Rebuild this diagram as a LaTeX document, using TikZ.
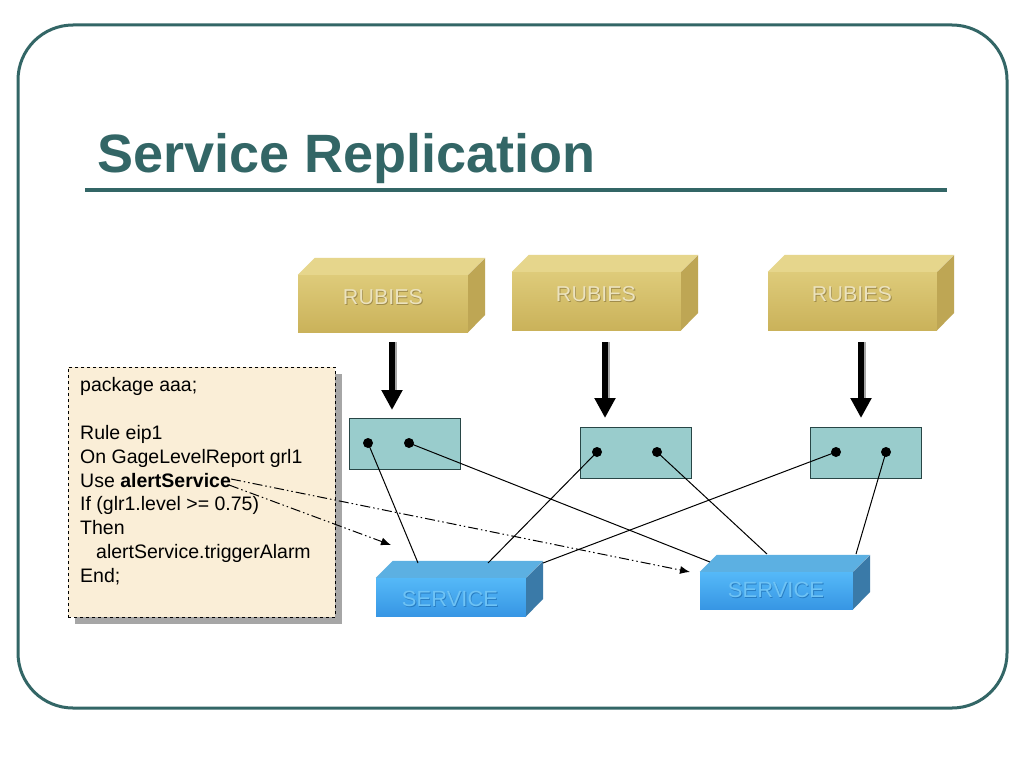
\documentclass[tikz,border=0pt]{standalone}
\usepackage{fontspec}
\setmainfont{Liberation Sans}
\usetikzlibrary{arrows.meta,calc}
\definecolor{teal1}{RGB}{51,102,102}
\definecolor{boxteal}{RGB}{153,204,204}
\definecolor{boxedge}{RGB}{40,70,70}
\definecolor{goldtop}{RGB}{230,214,140}
\definecolor{goldA}{RGB}{222,203,122}
\definecolor{goldB}{RGB}{202,178,90}
\definecolor{goldside}{RGB}{190,166,84}
\definecolor{goldtext}{RGB}{235,226,190}
\definecolor{goldtextd}{RGB}{160,140,75}
\definecolor{blueA}{RGB}{85,185,248}
\definecolor{blueB}{RGB}{55,150,228}
\definecolor{bluetop}{RGB}{92,176,226}
\definecolor{blueside}{RGB}{58,122,168}
\definecolor{bluetext}{RGB}{110,195,245}
\definecolor{bluetextd}{RGB}{40,125,195}
\definecolor{codebg}{RGB}{250,238,215}
\newcommand\myblock[6]{%
  \node[minimum width=#4pt, minimum height=#5pt, inner sep=0pt, top color=#6A, bottom color=#6B] (#1) at (#2,#3) {};
  \fill[#6top] (#1.north west) -- ++(17,-17) -- ++(#4,0) -- (#1.north east) -- cycle;
  \fill[#6side] (#1.north east) -- ++(17,-17) -- ++(0,#5) -- (#1.south east) -- cycle;
}
\tikzset{
  tealbox/.style={draw=boxedge, line width=1pt, fill=boxteal, minimum width=111pt, minimum height=51pt, inner sep=0pt},
  dotnode/.style={circle, fill=black, minimum size=10pt, inner sep=0pt},
  wire/.style={line width=1pt, black},
  bigarrow/.style={line width=6pt, black, -{Triangle[length=20pt,width=20pt]}},
  stripe/.style={line width=1.5pt, black!35},
  dashdot/.style={line width=1pt, dash pattern=on 10pt off 3pt on 1.5pt off 3pt on 1.5pt off 3pt, -{Latex[length=10pt,width=8pt]}},
  codeline/.style={anchor=base west, inner sep=0pt, font=\fontsize{19.5}{24}\selectfont},
  rubtext/.style={font=\fontsize{21.5}{24}\selectfont, inner sep=0pt},
  svctext/.style={font=\fontsize{22}{24}\selectfont, inner sep=0pt}
}
\begin{document}
\begin{tikzpicture}[x=1pt,y=-1pt]
\useasboundingbox (0,0) rectangle (1024,768);
\fill[white] (0,0) rectangle (1024,768);
\draw[teal1, line width=3pt, rounded corners=55pt] (18,25) rectangle (1007,708);
% title
\node[anchor=base west, inner sep=0pt, text=teal1, font=\bfseries\fontsize{54}{60}\selectfont] (title) at (97,172) {Service Replication};
\fill[teal1] (85,188) rectangle (947,192);

% gold blocks
\myblock{g1}{383}{303.5}{170}{57}{gold}
\myblock{g2}{596.5}{301}{169}{58}{gold}
\myblock{g3}{852.5}{301}{169}{58}{gold}
\foreach \n/\x/\y in {r1/383/297, r2/596/294, r3/852/294}{
  \node[rubtext, text=goldtextd] at (\x+0.9,\y+0.9) {RUBIES};
  \node[rubtext, text=goldtext] (\n) at (\x,\y) {RUBIES};
}

% teal boxes
\node[tealbox, anchor=north west] (b1) at (349,418) {};
\node[tealbox, anchor=north west] (b2) at (580,427) {};
\node[tealbox, anchor=north west] (b3) at (810,427) {};

% big arrows
\coordinate (a1s) at (392,342); \coordinate (a1e) at (392,410);
\coordinate (a2s) at (605,342); \coordinate (a2e) at (605,418);
\coordinate (a3s) at (861,342); \coordinate (a3e) at (861,418);
\foreach \s/\e in {a1s/a1e, a2s/a2e, a3s/a3e}{
  \draw[stripe] ([xshift=4pt]\s) -- ([xshift=4pt,yshift=20pt]\e);
  \draw[bigarrow] (\s) -- (\e);
}

% dots
\node[dotnode] (p11) at (368,443) {};
\node[dotnode] (p12) at (409,443) {};
\node[dotnode] (p21) at (597,452) {};
\node[dotnode] (p22) at (657,452) {};
\node[dotnode] (p31) at (836,452) {};
\node[dotnode] (p32) at (886,452) {};

% service blocks
\myblock{s1}{451}{597}{150}{38}{blue}
\myblock{s2}{776.5}{590.5}{153}{37}{blue}
\foreach \n/\x/\y in {t1/450/599, t2/776/590}{
  \node[svctext, text=bluetextd] at (\x+0.9,\y+0.9) {SERVICE};
  \node[svctext, text=bluetext] (\n) at (\x,\y) {SERVICE};
}

% attach points on service tops
\coordinate (s1a) at (418,563);
\coordinate (s1b) at (488,563);
\coordinate (s1c) at (543,563);
\coordinate (s2a) at (710,562);
\coordinate (s2b) at (767,554);
\coordinate (s2c) at (856,554);

\draw[wire] (p11.center) -- (s1a);
\draw[wire] (p12.center) -- (s2a);
\draw[wire] (p21.center) -- (s1b);
\draw[wire] (p22.center) -- (s2b);
\draw[wire] (p31.center) -- (s1c);
\draw[wire] (p32.center) -- (s2c);

% code box
\fill[black!35] (75,374) rectangle (342,624);
\node[draw=black, dashed, line width=0.7pt, fill=codebg, anchor=north west, minimum width=267pt, minimum height=250pt, inner sep=0pt] (code) at (68,367) {};
\node[codeline] (l1) at (80,391) {package aaa;};
\node[codeline] (l2) at (80,439) {Rule eip1};
\node[codeline] (l3) at (80,463) {On GageLevelReport grl1};
\node[codeline] (l4) at (80,487) {Use \textbf{alertService}};
\node[codeline] (l5) at (80,510) {If (glr1.level >= 0.75)};
\node[codeline] (l6) at (80,534) {Then};
\node[codeline] (l7) at (96,558) {alertService.triggerAlarm};
\node[codeline] (l8) at (80,582) {End;};

% dash-dot arrows
\coordinate (dA) at (231,479);
\coordinate (dB) at (229,485);
\coordinate (eA) at (690,572);
\coordinate (eB) at (391,545);
\draw[dashdot] (dA) -- (eA);
\draw[dashdot] (dB) -- (eB);
\end{tikzpicture}
\end{document}
